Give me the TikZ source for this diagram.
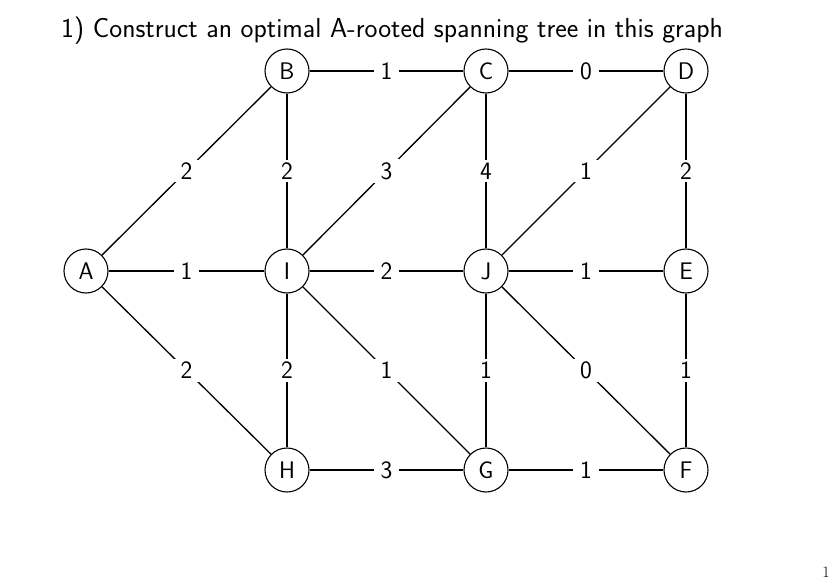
\documentclass[tikz,border=0pt]{standalone}
\usepackage{fontspec}
\begin{document}
\begin{tikzpicture}[x=1pt,y=-1pt,
  vtx/.style={circle,draw,line width=1.1pt,minimum size=44pt,inner sep=0pt,font=\sffamily\fontsize{24}{28}\selectfont,fill=white},
  lbl/.style={fill=white,inner xsep=7pt,inner ysep=3pt,font=\sffamily\fontsize{25}{29}\selectfont},
  edge/.style={line width=1.3pt}]
\useasboundingbox (0,0) rectangle (832,588);
\node[anchor=base west,font=\sffamily\fontsize{27.5}{32}\selectfont,inner sep=0pt] (t) at (61,38) {1) Construct an optimal A-rooted spanning tree in this graph};
\node[anchor=base east,font=\fontsize{16}{19}\selectfont,inner sep=0pt] (p) at (830,577) {1};
\node[vtx] (A) at (86,271) {A};
\node[vtx] (B) at (287,71) {B};
\node[vtx] (C) at (486,71) {C};
\node[vtx] (D) at (686,71) {D};
\node[vtx] (I) at (287,271) {I};
\node[vtx] (J) at (486,271) {J};
\node[vtx] (E) at (686,271) {E};
\node[vtx] (H) at (287,470) {H};
\node[vtx] (G) at (486,470) {G};
\node[vtx] (F) at (686,470) {F};
\foreach \a/\b/\w in {A/B/2,A/I/1,A/H/2,B/C/1,C/D/0,B/I/2,C/I/3,C/J/4,D/J/1,D/E/2,I/J/2,J/E/1,I/H/2,I/G/1,J/G/1,J/F/0,E/F/1,H/G/3,G/F/1}
  \draw[edge] (\a) -- node[lbl] {\w} (\b);
\end{tikzpicture}
\end{document}
